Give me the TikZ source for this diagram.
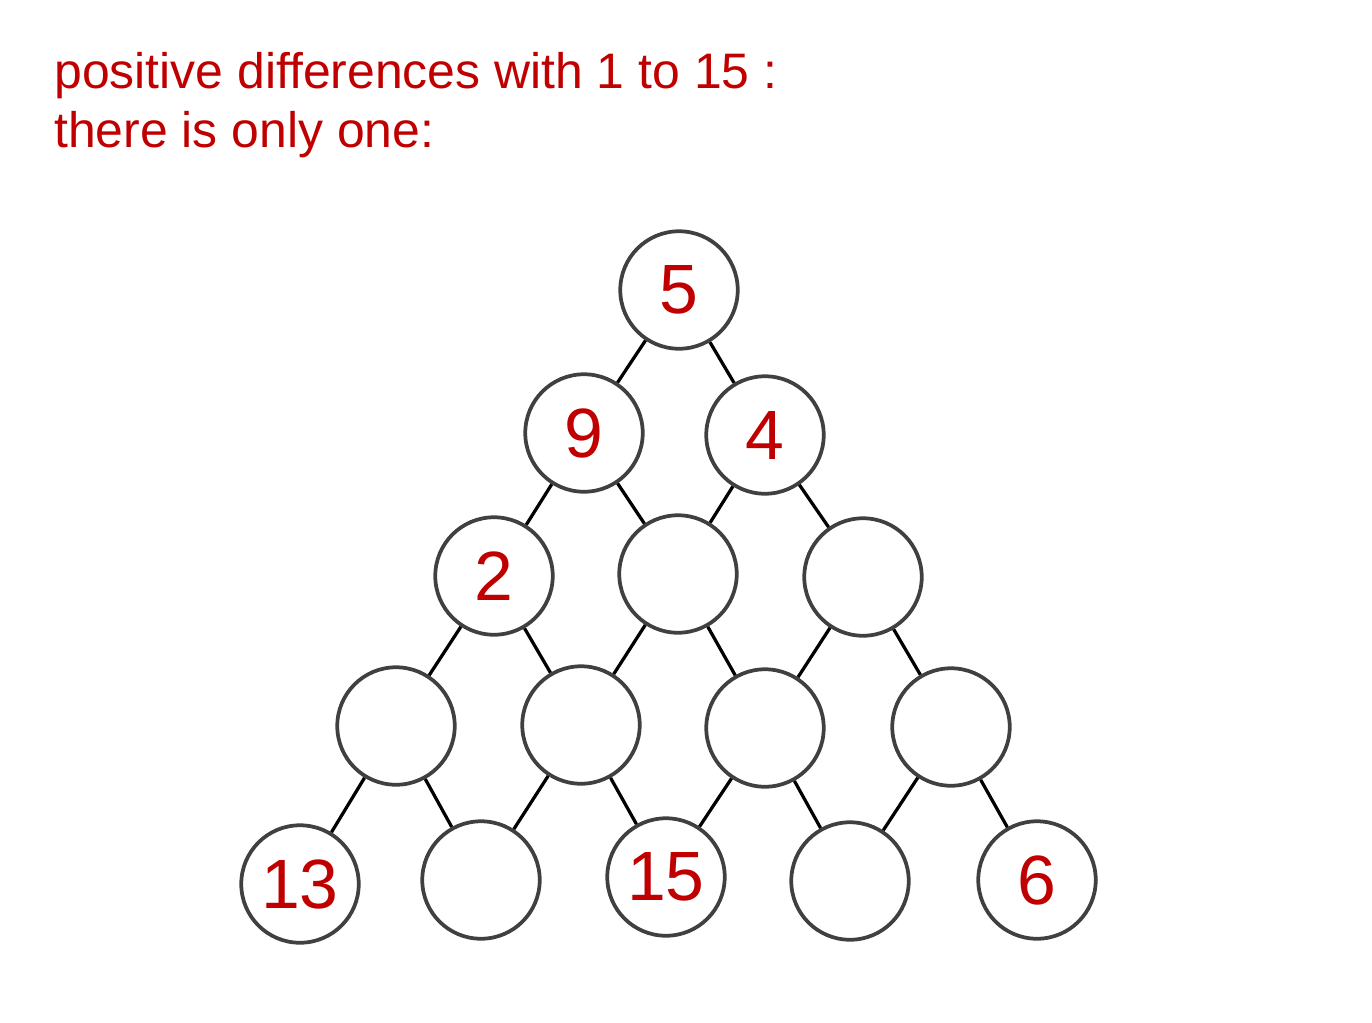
\documentclass[tikz,border=0pt]{standalone}
\usepackage{fontspec}
\setmainfont{Liberation Sans}
\definecolor{txtred}{HTML}{C00000}
\definecolor{ringgray}{HTML}{404040}
\begin{document}
\begin{tikzpicture}[x=0.02cm,y=-0.02cm,
  cell/.style={circle,draw=ringgray,line width=0.075cm,inner sep=0pt,minimum size=2.35cm,
    text=txtred,font=\fontsize{39.7pt}{44pt}\selectfont},
  link/.style={draw=black,line width=0.065cm},
  title/.style={anchor=base west,inner sep=0pt,text=txtred,font=\fontsize{28.4pt}{33pt}\selectfont}]
\useasboundingbox (0,0) rectangle (1372,1022);
\node[title] (t1) at (54,88) {positive differences with 1 to 15 :};
\node[title] (t2) at (54,147) {there is only one:};
% row 1
\node[cell] (a1) at (679,290) {5};
% row 2
\node[cell] (b1) at (584,433) {9};
\node[cell] (b2) at (765,435) {4};
% row 3
\node[cell] (c1) at (494,576) {2};
\node[cell] (c2) at (678,574) {};
\node[cell] (c3) at (863,577) {};
% row 4
\node[cell] (d1) at (396,726) {};
\node[cell] (d2) at (581,725) {};
\node[cell] (d3) at (765,728) {};
\node[cell] (d4) at (951,727) {};
% row 5
\node[cell] (e1) at (300,884) {13};
\node[cell] (e2) at (481,880) {};
\node[cell] (e3) at (666,877) {15};
\node[cell] (e4) at (850,881) {};
\node[cell] (e5) at (1037,880) {6};
% links
\path[link] (a1) -- (b1);
\path[link] (a1) -- (b2);
\path[link] (b1) -- (c1);
\path[link] (b1) -- (c2);
\path[link] (b2) -- (c2);
\path[link] (b2) -- (c3);
\path[link] (c1) -- (d1);
\path[link] (c1) -- (d2);
\path[link] (c2) -- (d2);
\path[link] (c2) -- (d3);
\path[link] (c3) -- (d3);
\path[link] (c3) -- (d4);
\path[link] (d1) -- (e1);
\path[link] (d1) -- (e2);
\path[link] (d2) -- (e2);
\path[link] (d2) -- (e3);
\path[link] (d3) -- (e3);
\path[link] (d3) -- (e4);
\path[link] (d4) -- (e4);
\path[link] (d4) -- (e5);
\end{tikzpicture}
\end{document}
